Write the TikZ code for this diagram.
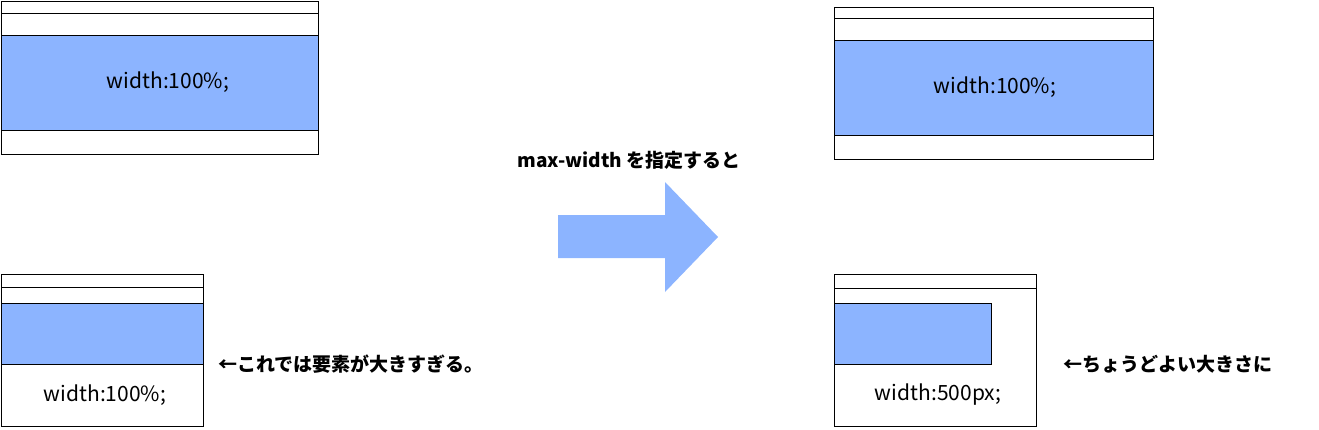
\documentclass[tikz,border=0pt]{standalone}
\usepackage{fontspec}
\setmainfont{Noto Sans CJK JP}
\definecolor{boxblue}{RGB}{140,180,255}
\tikzset{
  frame/.style={draw=black, line width=1pt},
  band/.style={fill=boxblue, draw=black, line width=1pt},
  css/.style={font=\fontsize{21}{24}\selectfont, inner sep=0pt},
  note/.style={font=\bfseries\fontsize{19}{22}\selectfont, inner sep=0pt, anchor=west}
}
\begin{document}
\begin{tikzpicture}[x=1pt,y=1pt,yscale=-1]
\useasboundingbox (0,0) rectangle (1319,429);

% top left window
\draw[frame] (1,1) rectangle (318,154);
\draw[frame] (1,13) -- (318,13);
\draw[band] (1,35) rectangle (318,130);
\node[css] (tl) at (168,82) {width:100\%;};

% bottom left window
\draw[frame] (1,274) rectangle (203,426);
\draw[frame] (1,287) -- (203,287);
\draw[band] (1,303) rectangle (203,364);
\node[css] (bl) at (105,395) {width:100\%;};
\node[note] (bad) at (218,364) {←これでは要素が大きすぎる。};

% arrow
\fill[boxblue] (558,215) -- (665,215) -- (665,182) -- (718,237) -- (665,292) -- (665,258) -- (558,258) -- cycle;
\node[note, anchor=center] (mw) at (629,160) {max-width を指定すると};

% top right window
\draw[frame] (834,7) rectangle (1153,159);
\draw[frame] (834,18) -- (1153,18);
\draw[band] (834,40) rectangle (1153,135);
\node[css] (tr) at (995,87) {width:100\%;};

% bottom right window
\draw[frame] (834,274) rectangle (1036,426);
\draw[frame] (834,288) -- (1036,288);
\draw[band] (834,303) rectangle (991,364);
\node[css] (br) at (938,395) {width:500px;};
\node[note] (good) at (1063,364) {←ちょうどよい大きさに};
\end{tikzpicture}
\end{document}
